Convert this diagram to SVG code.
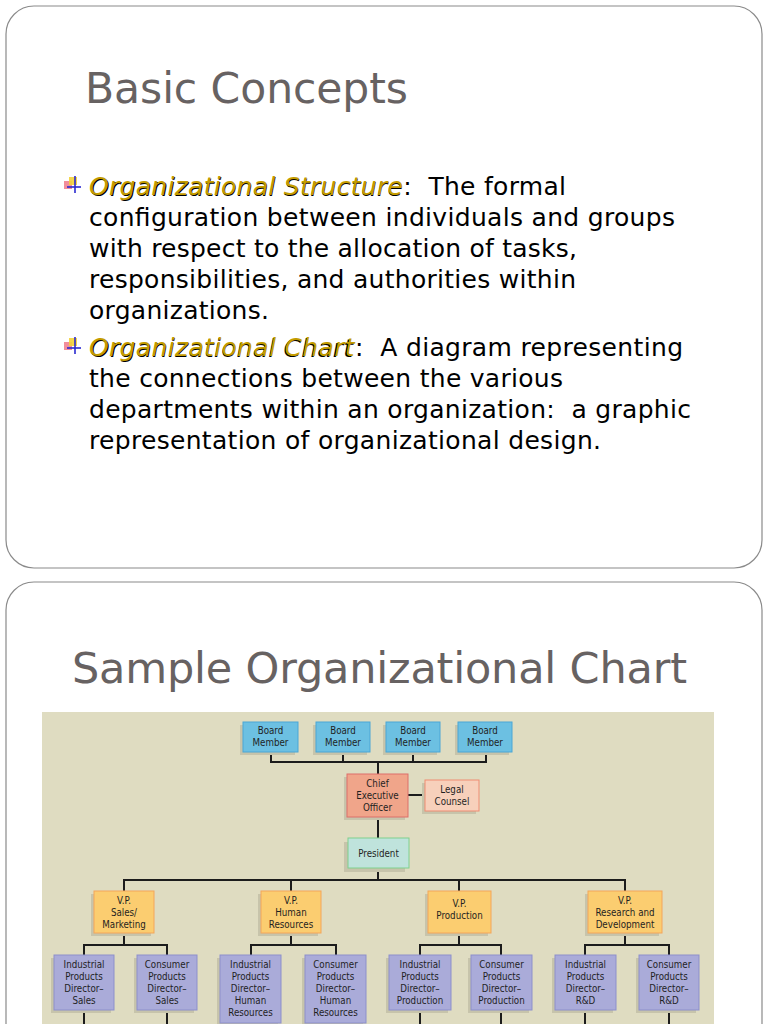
<svg xmlns="http://www.w3.org/2000/svg" width="768" height="1024" viewBox="0 0 768 1024">
<defs>
<style>
.slide{fill:#ffffff;stroke:#8a8a8a;stroke-width:1.2}
.title{font-family:"DejaVu Sans",sans-serif;fill:#676262}
.body{font-family:"DejaVu Sans",sans-serif;font-size:25px;fill:#000;white-space:pre}
.em{font-style:italic;fill:#c49c00}
.emsh{font-style:italic;fill:#000}
.sh{fill:#c7c4ab}
.board{fill:#6cc0e2;stroke:#4ba6d6;stroke-width:1}
.ceo{fill:#f0a58a;stroke:#dd6f6a;stroke-width:1}
.legal{fill:#f7d0bb;stroke:#ef8c72;stroke-width:1}
.pres{fill:#bfe3dc;stroke:#7fd08e;stroke-width:1}
.vp{fill:#fbcd70;stroke:#f4a55b;stroke-width:1}
.dir{fill:#aaabd9;stroke:#8d8fcb;stroke-width:1}
.t{font-family:"DejaVu Sans Condensed","Liberation Sans Narrow",sans-serif;font-size:9.7px;fill:#1f1f1f;text-anchor:middle}
.ln{stroke:#1c1c1c;stroke-width:2;fill:none}
</style>
<g id="bullet">
<rect x="0" y="0" width="8" height="8" fill="#f07a8a" opacity="0.85"/>
<rect x="5" y="-4" width="8" height="8" fill="#f3d23a" opacity="0.9"/>
<line x1="11" y1="-5" x2="11" y2="12" stroke="#2a2ad0" stroke-width="1.6"/>
<line x1="3" y1="6" x2="17" y2="6" stroke="#2a2ad0" stroke-width="1.6"/>
</g>
</defs>
<rect width="768" height="1024" fill="#ffffff"/>

<rect class="slide" x="6" y="6" width="756" height="562" rx="28" ry="28"/>
<rect class="slide" x="6" y="582" width="756" height="480" rx="28" ry="28"/>

<text class="title" x="85" y="103" font-size="42.5" textLength="323">Basic Concepts</text>

<use href="#bullet" x="64" y="181"/>
<text class="body" x="90" y="196" textLength="313"><tspan class="emsh">Organizational Structure</tspan></text>
<text class="body" x="89" y="195" textLength="477"><tspan class="em">Organizational Structure</tspan>:  The formal</text>
<text class="body" x="89" y="226" textLength="586">configuration between individuals and groups</text>
<text class="body" x="89" y="257" textLength="488">with respect to the allocation of tasks,</text>
<text class="body" x="89" y="288" textLength="487">responsibilities, and authorities within</text>
<text class="body" x="89" y="319" textLength="180">organizations.</text>

<use href="#bullet" x="64" y="342"/>
<text class="body" x="90" y="357" textLength="263"><tspan class="emsh">Organizational Chart</tspan></text>
<text class="body" x="89" y="356" textLength="594"><tspan class="em">Organizational Chart</tspan>:  A diagram representing</text>
<text class="body" x="89" y="387" textLength="474">the connections between the various</text>
<text class="body" x="89" y="418" textLength="602">departments within an organization:  a graphic</text>
<text class="body" x="89" y="449" textLength="512">representation of organizational design.</text>

<text class="title" x="72" y="683" font-size="43" textLength="615">Sample Organizational Chart</text>

<rect x="42" y="712" width="672" height="312" fill="#dfdcc1"/>

<g id="connectors">
<path class="ln" d="M271 752V762M343 752V762M413 752V762M486 752V762M270 762H487M378 762V774"/>
<path class="ln" d="M408 795H425M378 817V838M378 868V880M123 880H626"/>
<path class="ln" d="M124 880V891M291 880V891M459 880V891M625 880V891"/>
<path class="ln" d="M124 933V945M83 945H168M84 945V955M167 945V955"/>
<path class="ln" d="M291 933V945M250 945H337M251 945V955M336 945V955"/>
<path class="ln" d="M459 933V945M419 945H502M420 945V955M501 945V955"/>
<path class="ln" d="M625 933V945M584 945H670M585 945V955M669 945V955"/>
<path class="ln" d="M84 1010V1024M167 1010V1024M420 1010V1024M501 1010V1024M585 1010V1024M669 1010V1024"/>
</g>

<g id="board1"><rect class="sh" x="240" y="725" width="55" height="30"/><rect class="board" x="243" y="722" width="55" height="30"/><text class="t" x="270.5" y="734">Board</text><text class="t" x="270.5" y="746">Member</text></g>
<g id="board2"><rect class="sh" x="313" y="725" width="54" height="30"/><rect class="board" x="316" y="722" width="54" height="30"/><text class="t" x="343" y="734">Board</text><text class="t" x="343" y="746">Member</text></g>
<g id="board3"><rect class="sh" x="383" y="725" width="54" height="30"/><rect class="board" x="386" y="722" width="54" height="30"/><text class="t" x="413" y="734">Board</text><text class="t" x="413" y="746">Member</text></g>
<g id="board4"><rect class="sh" x="455" y="725" width="54" height="30"/><rect class="board" x="458" y="722" width="54" height="30"/><text class="t" x="485" y="734">Board</text><text class="t" x="485" y="746">Member</text></g>

<g id="ceo"><rect class="sh" x="344" y="777" width="61" height="43"/><rect class="ceo" x="347" y="774" width="61" height="43"/><text class="t" x="377.5" y="787">Chief</text><text class="t" x="377.5" y="799">Executive</text><text class="t" x="377.5" y="811">Officer</text></g>
<g id="legal"><rect class="sh" x="422" y="783" width="54" height="31"/><rect class="legal" x="425" y="780" width="54" height="31"/><text class="t" x="452" y="793">Legal</text><text class="t" x="452" y="805">Counsel</text></g>
<g id="president"><rect class="sh" x="344" y="842" width="61" height="30"/><rect class="pres" x="348" y="838" width="61" height="30"/><text class="t" x="378.5" y="857">President</text></g>

<g id="vp-sales"><rect class="sh" x="91" y="894" width="60" height="42"/><rect class="vp" x="94" y="891" width="60" height="42"/><text class="t" x="124" y="904">V.P.</text><text class="t" x="124" y="916">Sales/</text><text class="t" x="124" y="928">Marketing</text></g>
<g id="vp-hr"><rect class="sh" x="258" y="894" width="60" height="42"/><rect class="vp" x="261" y="891" width="60" height="42"/><text class="t" x="291" y="904">V.P.</text><text class="t" x="291" y="916">Human</text><text class="t" x="291" y="928">Resources</text></g>
<g id="vp-prod"><rect class="sh" x="425" y="894" width="63" height="42"/><rect class="vp" x="428" y="891" width="63" height="42"/><text class="t" x="459.5" y="907">V.P.</text><text class="t" x="459.5" y="919">Production</text></g>
<g id="vp-rd"><rect class="sh" x="585" y="894" width="74" height="42"/><rect class="vp" x="588" y="891" width="74" height="42"/><text class="t" x="625" y="904">V.P.</text><text class="t" x="625" y="916">Research and</text><text class="t" x="625" y="928">Development</text></g>

<g id="dir-ind-sales"><rect class="sh" x="51" y="958" width="60" height="55"/><rect class="dir" x="54" y="955" width="60" height="55"/><text class="t" x="84" y="968">Industrial</text><text class="t" x="84" y="980">Products</text><text class="t" x="84" y="992">Director–</text><text class="t" x="84" y="1004">Sales</text></g>
<g id="dir-con-sales"><rect class="sh" x="134" y="958" width="60" height="55"/><rect class="dir" x="137" y="955" width="60" height="55"/><text class="t" x="167" y="968">Consumer</text><text class="t" x="167" y="980">Products</text><text class="t" x="167" y="992">Director–</text><text class="t" x="167" y="1004">Sales</text></g>
<g id="dir-ind-hr"><rect class="sh" x="217" y="958" width="61" height="68"/><rect class="dir" x="220" y="955" width="61" height="68"/><text class="t" x="250.5" y="968">Industrial</text><text class="t" x="250.5" y="980">Products</text><text class="t" x="250.5" y="992">Director–</text><text class="t" x="250.5" y="1004">Human</text><text class="t" x="250.5" y="1016">Resources</text></g>
<g id="dir-con-hr"><rect class="sh" x="302" y="958" width="61" height="68"/><rect class="dir" x="305" y="955" width="61" height="68"/><text class="t" x="335.5" y="968">Consumer</text><text class="t" x="335.5" y="980">Products</text><text class="t" x="335.5" y="992">Director–</text><text class="t" x="335.5" y="1004">Human</text><text class="t" x="335.5" y="1016">Resources</text></g>
<g id="dir-ind-prod"><rect class="sh" x="386" y="958" width="62" height="55"/><rect class="dir" x="389" y="955" width="62" height="55"/><text class="t" x="420" y="968">Industrial</text><text class="t" x="420" y="980">Products</text><text class="t" x="420" y="992">Director–</text><text class="t" x="420" y="1004">Production</text></g>
<g id="dir-con-prod"><rect class="sh" x="468" y="958" width="61" height="55"/><rect class="dir" x="471" y="955" width="61" height="55"/><text class="t" x="501.5" y="968">Consumer</text><text class="t" x="501.5" y="980">Products</text><text class="t" x="501.5" y="992">Director–</text><text class="t" x="501.5" y="1004">Production</text></g>
<g id="dir-ind-rd"><rect class="sh" x="552" y="958" width="61" height="55"/><rect class="dir" x="555" y="955" width="61" height="55"/><text class="t" x="585.5" y="968">Industrial</text><text class="t" x="585.5" y="980">Products</text><text class="t" x="585.5" y="992">Director–</text><text class="t" x="585.5" y="1004">R&amp;D</text></g>
<g id="dir-con-rd"><rect class="sh" x="636" y="958" width="60" height="55"/><rect class="dir" x="639" y="955" width="60" height="55"/><text class="t" x="669" y="968">Consumer</text><text class="t" x="669" y="980">Products</text><text class="t" x="669" y="992">Director–</text><text class="t" x="669" y="1004">R&amp;D</text></g>
</svg>
